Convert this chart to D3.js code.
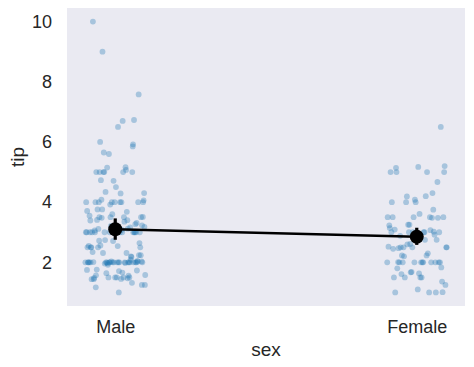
<!DOCTYPE html>
<html>
<head>
<meta charset="utf-8">
<script src="https://d3js.org/d3.v7.min.js"></script>
<style>
  body { margin: 0; background: #fff; }
  text { font-family: "Liberation Sans", Arial, sans-serif; fill: #262626; }
</style>
</head>
<body>
<script>
// categories and values (tips dataset, tip by sex)
var categories = ["Male", "Female"];

var maleTips = [1.66, 3.50, 3.31, 4.71, 2.00, 3.12, 1.96, 3.23, 1.71, 1.57, 3.00, 3.92, 3.71, 3.35, 4.08,
  7.58, 3.18, 2.34, 2.00, 2.00, 4.30, 1.45, 2.50, 3.27, 3.60, 2.00, 2.31, 5.00, 2.24, 2.54, 3.06, 1.32,
  5.60, 3.00, 5.00, 6.00, 2.05, 3.00, 2.50, 1.56, 4.34, 3.51, 3.00, 1.76, 6.73, 3.21, 2.00, 1.98, 3.76,
  2.64, 3.15, 2.01, 2.09, 1.97, 1.25, 3.08, 4.00, 3.00, 2.71, 3.00, 3.40, 5.00, 2.03, 2.00, 4.00, 5.85,
  3.00, 3.00, 3.50, 4.73, 4.00, 1.50, 3.00, 1.50, 1.64, 4.06, 4.29, 3.76, 3.00, 4.00, 2.55, 5.07, 2.31,
  2.50, 2.00, 1.48, 2.18, 1.50, 2.00, 6.70, 5.00, 1.73, 2.00, 2.50, 2.00, 2.74, 2.00, 2.00, 5.00, 2.00,
  3.50, 2.50, 2.00, 3.48, 2.24, 4.50, 10.00, 3.16, 5.15, 3.18, 4.00, 3.11, 2.00, 2.00, 3.55, 3.68, 5.65,
  3.50, 6.50, 3.00, 5.00, 2.00, 4.00, 1.50, 2.56, 2.02, 4.00, 1.44, 2.00, 2.00, 4.00, 4.00, 3.41, 3.00,
  2.03, 2.00, 5.16, 9.00, 3.00, 1.50, 1.44, 2.20, 1.92, 1.58, 3.00, 2.72, 2.00, 3.00, 3.39, 1.47, 3.00,
  1.25, 1.00, 1.17, 5.92, 2.00, 1.75];

var femaleTips = [1.01, 3.61, 5.00, 3.02, 1.67, 3.50, 2.75, 2.23, 3.00, 3.00, 2.45, 3.07, 2.60, 5.20,
  1.50, 2.47, 1.00, 3.00, 3.14, 5.00, 2.20, 1.83, 5.17, 1.00, 4.30, 3.25, 2.50, 3.00, 2.50, 3.48, 4.08,
  4.00, 1.00, 4.00, 3.50, 1.50, 1.80, 2.92, 1.68, 2.52, 4.20, 2.00, 2.00, 2.83, 1.50, 2.00, 3.25, 1.25,
  2.00, 2.00, 2.75, 3.50, 5.00, 2.30, 1.50, 1.36, 1.63, 5.14, 3.75, 2.61, 2.00, 3.00, 1.61, 2.00, 4.00,
  3.50, 3.50, 4.19, 5.00, 2.00, 2.01, 2.00, 2.50, 3.23, 2.23, 2.50, 6.50, 1.10, 3.09, 3.48, 3.00, 2.50,
  2.00, 2.88, 4.67, 2.00, 3.00];

// point estimate with its error bar
var meanTip = [3.10, 2.85];
var ciLow = [2.75, 2.58];
var ciHigh = [3.46, 3.15];

var yTicks = [2, 4, 6, 8, 10];

var width = 474, height = 367;
var margin = {left: 67, right: 9, top: 8, bottom: 61};

var svg = d3.select("body").append("svg")
  .attr("width", width)
  .attr("height", height);

var x = d3.scaleLinear()
  .domain([-0.16, 1.16])
  .range([margin.left, width - margin.right]);

var y = d3.scaleLinear()
  .domain([0.55, 10.45])
  .range([height - margin.bottom, margin.top]);

svg.append("rect")
  .attr("x", margin.left)
  .attr("y", margin.top)
  .attr("width", width - margin.left - margin.right)
  .attr("height", height - margin.top - margin.bottom)
  .attr("fill", "#eaeaf2");

// strip points, spread with a fixed (non-random) offset sequence
var pts = [];
[maleTips, femaleTips].forEach(function (arr, ci) {
  arr.forEach(function (v, i) {
    var u = ((i + 1) * 0.6180339887 + ci * 0.31) % 1;
    pts.push({cat: ci, tip: v, off: (u - 0.5) * 0.2});
  });
});

svg.append("g").selectAll("circle")
  .data(pts)
  .enter().append("circle")
  .attr("cx", function (d) { return x(d.cat + d.off); })
  .attr("cy", function (d) { return y(d.tip); })
  .attr("r", 2.9)
  .attr("fill", "#1f77b4")
  .attr("fill-opacity", 0.33);

// point plot
var line = d3.line()
  .x(function (d, i) { return x(i); })
  .y(function (d) { return y(d); });

svg.append("path")
  .datum(meanTip)
  .attr("d", line)
  .attr("fill", "none")
  .attr("stroke", "#000")
  .attr("stroke-width", 2.4);

svg.append("g").selectAll("line")
  .data(meanTip)
  .enter().append("line")
  .attr("x1", function (d, i) { return x(i); })
  .attr("x2", function (d, i) { return x(i); })
  .attr("y1", function (d, i) { return y(ciLow[i]); })
  .attr("y2", function (d, i) { return y(ciHigh[i]); })
  .attr("stroke", "#000")
  .attr("stroke-width", 3.2);

svg.append("g").selectAll("circle")
  .data(meanTip)
  .enter().append("circle")
  .attr("cx", function (d, i) { return x(i); })
  .attr("cy", function (d) { return y(d); })
  .attr("r", 7)
  .attr("fill", "#000");

// axes
var yAxis = svg.append("g")
  .attr("transform", "translate(" + margin.left + ",0)")
  .call(d3.axisLeft(y).tickValues(yTicks).tickSize(0).tickPadding(15).tickFormat(d3.format("d")));
yAxis.select(".domain").remove();
yAxis.selectAll("text").style("font-size", "18px").attr("fill", "#262626");

var xAxis = svg.append("g")
  .attr("transform", "translate(0," + (height - margin.bottom) + ")")
  .call(d3.axisBottom(x).tickValues([0, 1]).tickSize(0).tickPadding(14)
    .tickFormat(function (d) { return categories[d]; }));
xAxis.select(".domain").remove();
xAxis.selectAll("text").style("font-size", "18px").attr("fill", "#262626");

svg.append("text")
  .attr("x", (margin.left + width - margin.right) / 2)
  .attr("y", 356)
  .attr("text-anchor", "middle")
  .style("font-size", "19px")
  .text("sex");

svg.append("text")
  .attr("transform", "translate(24," + ((margin.top + height - margin.bottom) / 2) + ") rotate(-90)")
  .attr("text-anchor", "middle")
  .style("font-size", "19px")
  .text("tip");
</script>
</body>
</html>
